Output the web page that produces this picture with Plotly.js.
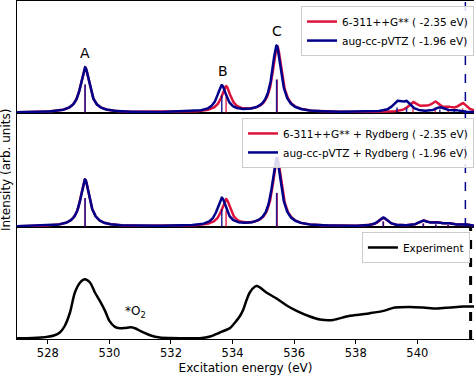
<!DOCTYPE html>
<html>
<head>
<meta charset="utf-8">
<script src="https://cdn.plot.ly/plotly-3.0.1.min.js"></script>
<style>html,body{margin:0;padding:0;background:#fff;}#chart{width:474px;height:379px;}</style>
</head>
<body>
<div id="chart"></div>
<script>
// ---- Data ----
// Calculated transitions: energies (eV), broadened-peak amplitudes, stick intensities (arb. units)
var sixE      = [529.21, 533.79, 535.45, 539.86, 540.22, 540.58, 541.0, 541.47];
var sixAmp    = [45, 25.5, 66, 9, 3, 9, 3, 8.5];
var sixStick  = [28, 16, 33, 5, 2, 5, 2, 4];

var augE      = [529.21, 533.65, 535.43, 539.34, 539.65, 540.73, 541.2];
var augAmp    = [45, 26.5, 66.5, 9, 9, 4.5, 2];
var augStick  = [28, 17, 33, 5, 5, 3, 1.5];

var sixRydE     = [529.21, 533.79, 535.45, 538.9, 540.2, 540.6, 541.0, 541.5];
var sixRydAmp   = [46, 26, 66.5, 8, 5, 3, 2.5, 2];
var sixRydStick = [28, 16, 33, 5, 3, 2, 1.5, 1];

var augRydE     = [529.21, 533.65, 535.43, 538.89, 540.19, 540.6, 541.0, 541.5];
var augRydAmp   = [46, 27.5, 67, 8.5, 5, 3, 2.5, 2];
var augRydStick = [28, 17, 33, 5, 3, 2, 1.5, 1];

// Experimental spectrum
var expE = [527.0, 527.5, 528.0, 528.2, 528.39, 528.55, 528.72, 528.88, 529.05, 529.2, 529.37, 529.53, 529.69, 529.86, 530.0, 530.18, 530.34, 530.5, 530.7, 530.85, 531.0, 531.16, 531.32, 531.64, 531.97, 532.5, 532.94, 533.27, 533.59, 533.75, 533.92, 534.08, 534.24, 534.35, 534.45, 534.56, 534.73, 534.8, 534.89, 535.1, 535.43, 535.76, 536.08, 536.51, 536.84, 537.27, 537.7, 538.03, 538.46, 538.9, 539.27, 539.76, 540.19, 540.63, 541.06, 541.49, 541.84];
var expI = [0.2, 0.4, 1.7, 3, 6, 12.5, 26, 46, 56, 59.3, 56, 46, 37.6, 27.6, 17.6, 11.6, 10.3, 10.5, 11.2, 10, 7.6, 5.3, 3.3, 1, 0.5, 0.3, 0.3, 2, 6, 8, 10.5, 16, 22.5, 29, 38, 46, 52, 52.5, 51, 46, 40, 33, 27.6, 22, 19, 18.6, 22, 23.6, 25.3, 27.6, 31, 31.6, 31, 30, 31, 32, 32];

var peakLabels = ['A', 'B', 'C'];
var labelEnergies = [529.21, 533.7, 535.43];
var labelHeights = [45, 27, 67];

var sixName = '6-311++G** ( -2.35 eV)';
var augName = 'aug-cc-pVTZ ( -1.96 eV)';
var sixRydName = '6-311++G** + Rydberg ( -2.35 eV)';
var augRydName = 'aug-cc-pVTZ + Rydberg ( -1.96 eV)';
var expName = 'Experiment';

var ionLimitCalc = 541.56;
var ionLimitExp = 541.73;
var xRange = [527, 541.84];
var hwhm = 0.18;

// ---- Helpers ----
function broaden(E, A) {
  var xs = [], ys = [];
  for (var x = xRange[0]; x <= xRange[1] + 1e-9; x += 0.01) {
    var s = 0;
    for (var k = 0; k < E.length; k++) {
      var d = x - E[k];
      s += A[k] * hwhm * hwhm / (d * d + hwhm * hwhm);
    }
    xs.push(x); ys.push(s);
  }
  return {x: xs, y: ys};
}
function sticks(E, H) {
  var xs = [], ys = [];
  for (var k = 0; k < E.length; k++) { xs.push(E[k], E[k], null); ys.push(0, H[k], null); }
  return {x: xs, y: ys};
}

var RED = '#DC143C', BLUE = '#00008B';
var traces = [];
function addCalc(E, A, H, name, color, xa, ya, leg) {
  var s = sticks(E, H);
  traces.push({x: s.x, y: s.y, xaxis: xa, yaxis: ya, mode: 'lines', line: {color: color, width: 1.5}, opacity: 0.85, showlegend: false, hoverinfo: 'skip'});
  var c = broaden(E, A);
  traces.push({x: c.x, y: c.y, xaxis: xa, yaxis: ya, mode: 'lines', name: name, line: {color: color, width: 2.5}, legend: leg});
}
// top panel
addCalc(sixE, sixAmp, sixStick, sixName, RED, 'x3', 'y3', 'legend');
addCalc(augE, augAmp, augStick, augName, BLUE, 'x3', 'y3', 'legend');
// middle panel
addCalc(sixRydE, sixRydAmp, sixRydStick, sixRydName, RED, 'x2', 'y2', 'legend2');
addCalc(augRydE, augRydAmp, augRydStick, augRydName, BLUE, 'x2', 'y2', 'legend2');
// bottom panel
traces.push({x: expE, y: expI, xaxis: 'x', yaxis: 'y', mode: 'lines', name: expName, line: {color: '#000', width: 2.5, shape: 'spline', smoothing: 0.8}, legend: 'legend3'});

var FONT = 'DejaVu Sans, sans-serif';
var d1 = 112 / 338, d2 = 226 / 338;
function xax(anchor, labels) {
  var a = {anchor: anchor, range: xRange, showgrid: false, zeroline: false, showline: true, mirror: true,
    linecolor: '#000', linewidth: 1, showticklabels: labels, ticks: labels ? 'outside' : '', ticklen: 3.5, tickwidth: 1,
    tickcolor: '#000', tickvals: [528, 530, 532, 534, 536, 538, 540], tickfont: {family: FONT, size: 11.5, color: '#000'}};
  if (labels) a.title = {text: 'Excitation energy (eV)', font: {family: FONT, size: 12, color: '#000'}, standoff: 4};
  return a;
}
function yax(domain) {
  return {domain: domain, range: [-0.5, 111.5], showgrid: false, zeroline: false, showline: true, linecolor: '#000', linewidth: 1, showticklabels: false, ticks: ''};
}
function leg(y, x) {
  return {x: x, y: y, xanchor: 'right', yanchor: 'top', bgcolor: 'rgba(255,255,255,0.85)', bordercolor: '#cccccc', borderwidth: 1,
    font: {family: FONT, size: 10.5, color: '#000'}, itemwidth: 30, tracegroupgap: 0};
}

var annotations = [];
for (var i = 0; i < peakLabels.length; i++) {
  annotations.push({x: labelEnergies[i], y: labelHeights[i], xref: 'x3', yref: 'y3', text: peakLabels[i], showarrow: false,
    yanchor: 'bottom', yshift: 5, font: {family: FONT, size: 14, color: '#000'}});
}
annotations.push({x: 530.86, y: 27, xref: 'x', yref: 'y', text: '*O<sub>2</sub>', showarrow: false, font: {family: FONT, size: 12, color: '#000'}});
annotations.push({x: -0.024, y: 0.5, xref: 'paper', yref: 'paper', text: 'Intensity (arb. units)', textangle: -90, showarrow: false,
  xanchor: 'center', yanchor: 'middle', font: {family: FONT, size: 12, color: '#000'}});

var layout = {
  width: 474, height: 379,
  margin: {l: 17, r: 0, t: 1, b: 40},
  paper_bgcolor: '#fff', plot_bgcolor: '#fff',
  font: {family: FONT, color: '#000'},
  xaxis: xax('y', true),
  xaxis2: xax('y2', false),
  xaxis3: xax('y3', false),
  yaxis: yax([0, d1]),
  yaxis2: yax([d1, d2]),
  yaxis3: yax([d2, 1]),
  legend: leg(0.985, 1),
  legend2: leg(0.654, 1),
  legend3: leg(0.3166, 0.991),
  annotations: annotations,
  shapes: [
    {type: 'line', xref: 'x3', yref: 'paper', x0: ionLimitCalc, x1: ionLimitCalc, y0: d1, y1: 1, line: {color: BLUE, width: 1.5, dash: 'dash'}},
    {type: 'line', xref: 'x', yref: 'y domain', x0: ionLimitExp, x1: ionLimitExp, y0: 0, y1: 1, line: {color: '#000', width: 3, dash: 'dash'}}
  ],
  showlegend: true
};

Plotly.newPlot('chart', traces, layout, {staticPlot: true, displayModeBar: false});
</script>
</body>
</html>
